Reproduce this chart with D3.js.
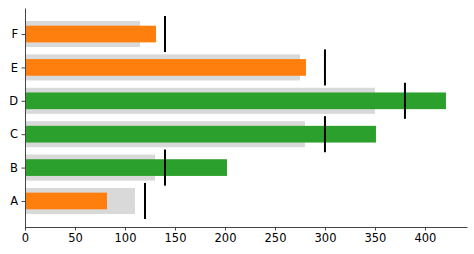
<!DOCTYPE html>
<html>
<head>
<meta charset="utf-8">
<script src="https://cdn.jsdelivr.net/npm/d3@7"></script>
<style>
  body { margin: 0; background: #fff; }
  .tick text { font-family: "DejaVu Sans", sans-serif; font-size: 11.5px; fill: #000; }
</style>
</head>
<body>
<div id="chart"></div>
<script>
// chart values, bottom row first
const categories = ['A', 'B', 'C', 'D', 'E', 'F'];
const actual = [82, 202, 351, 421, 281, 131];
const ranges = [110, 130, 280, 350, 275, 115];
const targets = [120, 140, 300, 380, 300, 140];
const xTicks = [0, 50, 100, 150, 200, 250, 300, 350, 400];

const width = 474;
const height = 254;
const margin = { top: 8, right: 7, bottom: 27, left: 25 };

const usableArea = {
    top: margin.top,
    right: width - margin.right,
    bottom: height - margin.bottom,
    left: margin.left
};

const rows = categories.map((c, i) => ({
    cat: c,
    idx: i,
    actual: actual[i],
    range: ranges[i],
    target: targets[i]
}));

const svg = d3.select('#chart')
    .append('svg')
    .attr('width', width)
    .attr('height', height);

const xMax = 1.05 * d3.max([...actual, ...ranges, ...targets]);

const xScale = d3.scaleLinear()
    .domain([0, xMax])
    .range([usableArea.left, usableArea.right]);

const yScale = d3.scaleLinear()
    .domain([-0.78, categories.length - 1 + 0.78])
    .range([usableArea.bottom, usableArea.top]);

const unit = Math.abs(yScale(1) - yScale(0));

// gray background range bars
svg.append('g')
    .selectAll('rect')
    .data(rows)
    .join('rect')
    .attr('x', xScale(0))
    .attr('y', d => yScale(d.idx) - unit * 0.39)
    .attr('width', d => xScale(d.range) - xScale(0))
    .attr('height', unit * 0.78)
    .attr('fill', '#d9d9d9');

// actual values, green if target met
svg.append('g')
    .selectAll('rect')
    .data(rows)
    .join('rect')
    .attr('x', xScale(0))
    .attr('y', d => yScale(d.idx) - unit * 0.25)
    .attr('width', d => xScale(d.actual) - xScale(0))
    .attr('height', unit * 0.5)
    .attr('fill', d => d.actual >= d.target ? '#2ca02c' : '#ff7f0e');

// target markers
svg.append('g')
    .selectAll('line')
    .data(rows)
    .join('line')
    .attr('x1', d => xScale(d.target))
    .attr('x2', d => xScale(d.target))
    .attr('y1', d => yScale(d.idx) - unit * 0.54)
    .attr('y2', d => yScale(d.idx) + unit * 0.54)
    .attr('stroke', '#000')
    .attr('stroke-width', 2);

const xAxis = d3.axisBottom(xScale)
    .tickValues(xTicks)
    .tickSize(3.5)
    .tickPadding(3.5)
    .tickSizeOuter(0);

const yAxis = d3.axisLeft(yScale)
    .tickValues(d3.range(categories.length))
    .tickFormat(i => categories[i])
    .tickSize(3.5)
    .tickPadding(3.5)
    .tickSizeOuter(0);

const gx = svg.append('g')
    .attr('transform', `translate(0, ${usableArea.bottom})`)
    .call(xAxis);

const gy = svg.append('g')
    .attr('transform', `translate(${usableArea.left}, 0)`)
    .call(yAxis);

[gx, gy].forEach(g => {
    g.select('.domain').attr('stroke', '#444').attr('stroke-width', 1);
    g.selectAll('.tick line').attr('stroke', '#444').attr('stroke-width', 1);
});
</script>
</body>
</html>
